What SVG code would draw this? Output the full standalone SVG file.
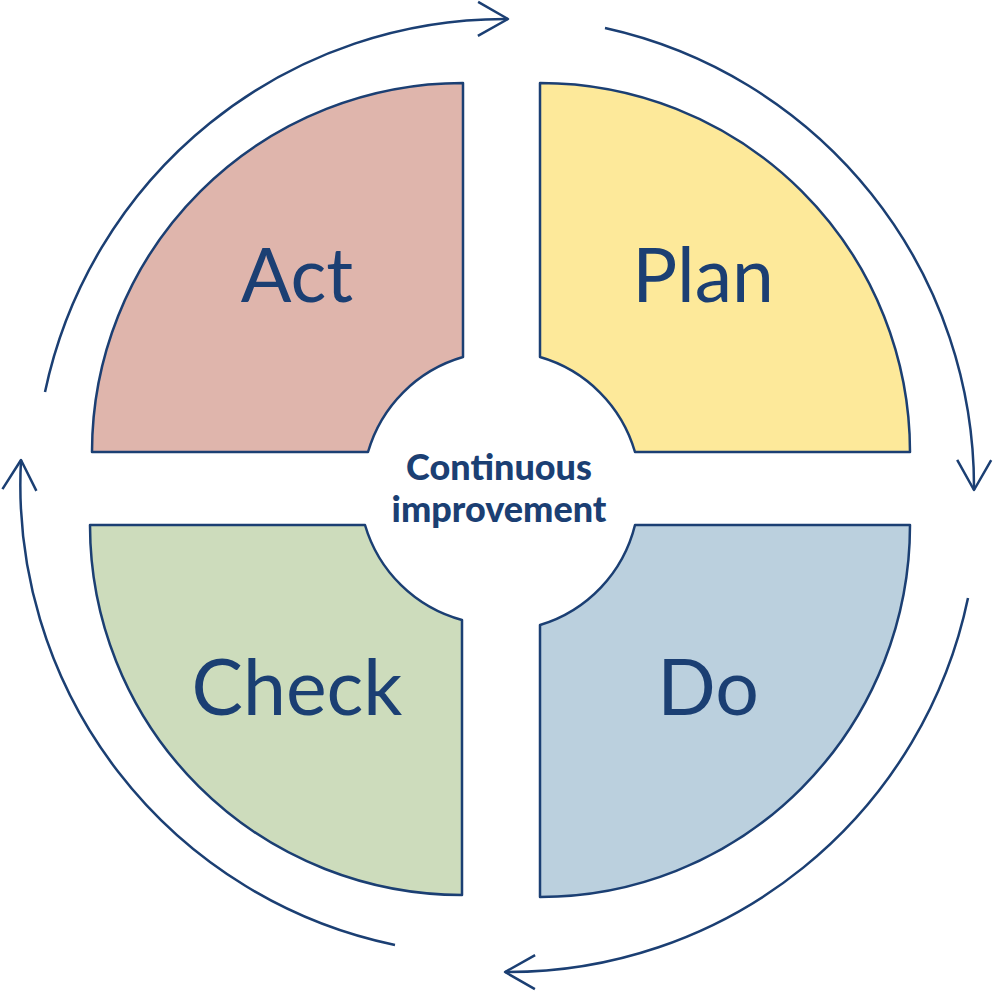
<svg xmlns="http://www.w3.org/2000/svg" width="1000" height="993" viewBox="0 0 1000 993">
<defs>
<style>
.q{stroke:#1b3f73;stroke-width:2.5;stroke-linejoin:round}
.t{font-family:"Lato","Liberation Sans",sans-serif;fill:#1b3f73;text-anchor:middle}
.c{fill:none;stroke:#1b3f73;stroke-width:2.5;marker-end:url(#ah)}
</style>
<marker id="ah" viewBox="0 0 40 40" refX="36" refY="20" markerWidth="40" markerHeight="40" markerUnits="userSpaceOnUse" orient="auto">
<path d="M6 3 L36 20 L6 37" fill="none" stroke="#1b3f73" stroke-width="2.5" stroke-linejoin="round"/>
</marker>
</defs>
<rect width="1000" height="993" fill="#fff"/>
<g id="act"><path class="q" fill="#dfb5ac" d="M463 83 L463 357 A139 139 0 0 0 368 452 L92 452 A371 369 0 0 1 463 83 Z"/><text class="t" x="297" y="302" font-size="75">Act</text></g>
<g id="plan"><path class="q" fill="#fde99a" d="M540 83 A370 369 0 0 1 910 452 L635 452 A139 139 0 0 0 540 357 Z"/><text class="t" x="703" y="302" font-size="75">Plan</text></g>
<g id="check"><path class="q" fill="#cddcbc" d="M90 525 L365 525 A139 139 0 0 0 462 620 L462 895 A372 370 0 0 1 90 525 Z"/><text class="t" x="297" y="715" font-size="77">Check</text></g>
<g id="do"><path class="q" fill="#bbd0de" d="M635 525 L910 525 A370 372 0 0 1 540 897 L540 625 A139 139 0 0 0 635 525 Z"/><text class="t" x="708" y="715" font-size="77">Do</text></g>
<g id="center"><text class="t" x="499" y="480" font-size="36" font-weight="900">Continuous</text><text class="t" x="499" y="522" font-size="36" font-weight="900">improvement</text></g>
<g id="connectors">
<path class="c" d="M45 392 A470 470 0 0 1 508 19"/>
<path class="c" d="M605 28 A470 470 0 0 1 974 490"/>
<path class="c" d="M968 598 A470 470 0 0 1 505 972"/>
<path class="c" d="M395 945 A470 470 0 0 1 21 460"/>
</g>
</svg>
